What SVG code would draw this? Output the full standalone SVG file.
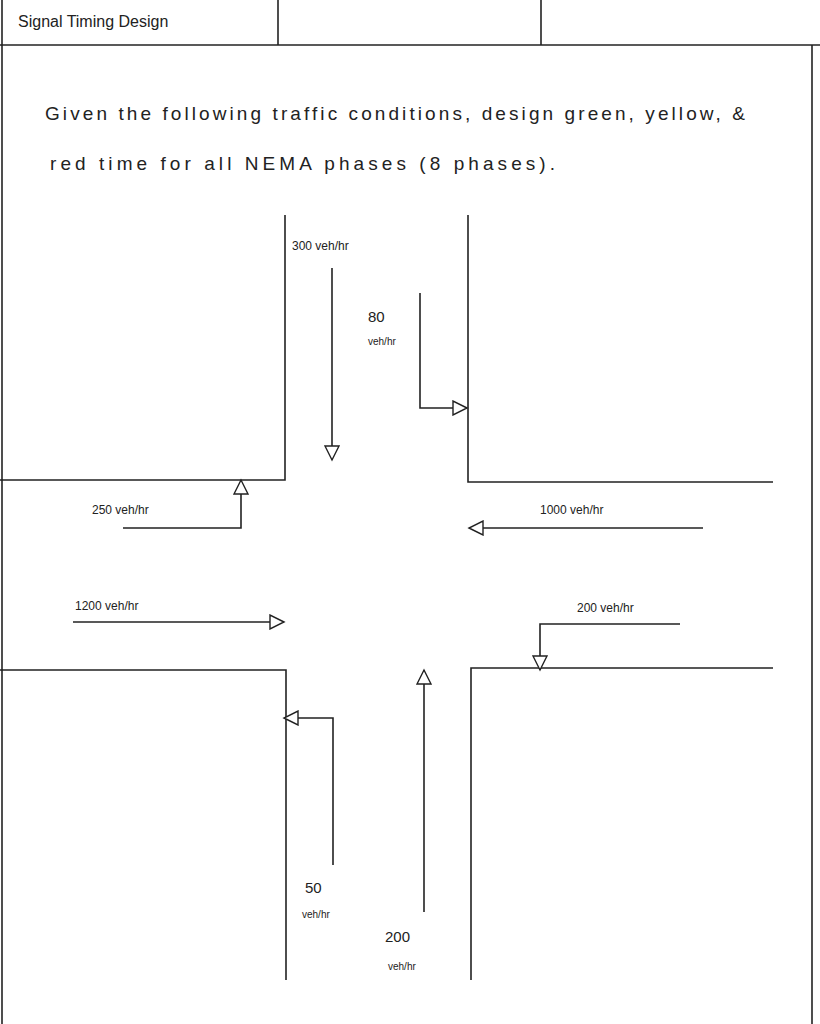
<svg xmlns="http://www.w3.org/2000/svg" width="820" height="1024" viewBox="0 0 820 1024">
<style>
line,polyline,path{stroke:#222;stroke-width:1.6;fill:none}
.h{fill:#fff;stroke:#222;stroke-width:1.4}
text{font-family:"Liberation Sans",sans-serif;fill:#222}
.t{font-size:12px}
.s{font-size:10px}
</style>
<defs>
<marker id="a" markerWidth="18" markerHeight="16" refX="16" refY="8" orient="auto" markerUnits="userSpaceOnUse">
<path class="h" d="M16,8 L2,1 L2,15 Z"/>
</marker>
</defs>
<rect x="0" y="0" width="820" height="1024" fill="#fff"/>
<g id="frame">
<line x1="2" y1="0" x2="2" y2="1024"/>
<line x1="812" y1="45" x2="812" y2="1024"/>
<line x1="0" y1="45" x2="820" y2="45"/>
<line x1="278" y1="0" x2="278" y2="45"/>
<line x1="541" y1="0" x2="541" y2="45"/>
<text x="18" y="27" font-size="16">Signal Timing Design</text>
</g>
<g id="prompt">
<text x="45" y="120" font-size="19" textLength="700" lengthAdjust="spacing">Given the following traffic conditions, design green, yellow, &amp;</text>
<text x="50" y="170" font-size="19" textLength="505" lengthAdjust="spacing">red time for all NEMA phases (8 phases).</text>
</g>
<g id="roads">
<polyline points="285,215 285,480 0,480"/>
<polyline points="468,215 468,482 773,482"/>
<polyline points="0,670 286,670 286,980"/>
<polyline points="773,668 471,668 471,980"/>
</g>
<g id="connectors">
<line x1="332" y1="268" x2="332" y2="460" marker-end="url(#a)"/>
<polyline points="420,293 420,408 467,408" marker-end="url(#a)"/>
<polyline points="123,528 241,528 241,480" marker-end="url(#a)"/>
<line x1="703" y1="528" x2="469" y2="528" marker-end="url(#a)"/>
<line x1="73" y1="622" x2="284" y2="622" marker-end="url(#a)"/>
<polyline points="680,624 540,624 540,670" marker-end="url(#a)"/>
<polyline points="333,865 333,718 284,718" marker-end="url(#a)"/>
<line x1="424" y1="912" x2="424" y2="670" marker-end="url(#a)"/>
</g>
<g id="labels">
<text x="292" y="250" class="t">300 veh/hr</text>
<text x="368" y="322" font-size="15">80</text>
<text x="368" y="345" class="s">veh/hr</text>
<text x="92" y="514" class="t">250 veh/hr</text>
<text x="540" y="514" class="t">1000 veh/hr</text>
<text x="75" y="610" class="t">1200 veh/hr</text>
<text x="577" y="612" class="t">200 veh/hr</text>
<text x="305" y="893" font-size="15">50</text>
<text x="302" y="918" class="s">veh/hr</text>
<text x="385" y="942" font-size="15">200</text>
<text x="388" y="970" class="s">veh/hr</text>
</g>
</svg>
